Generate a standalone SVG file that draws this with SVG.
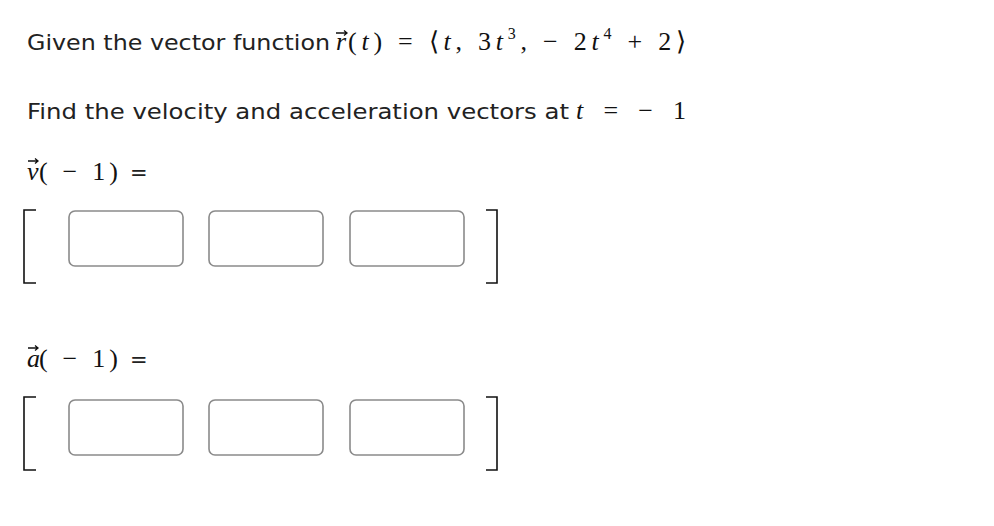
<svg xmlns="http://www.w3.org/2000/svg" width="994" height="526" viewBox="0 0 994 526">
<style>
.s{font-family:"DejaVu Sans","Liberation Sans",sans-serif;font-size:21px;fill:#222}
.m{font-family:"Liberation Serif",serif;font-size:26px;fill:#111}
.sup{font-size:16px}
.i{font-style:italic}
.b{fill:#fff;stroke:#8a8a8a;stroke-width:1.6}
.br{fill:none;stroke:#111;stroke-width:1.6}
.ar{fill:none;stroke:#111;stroke-width:1.3}
</style>
<rect width="994" height="526" fill="#fff"/>
<text x="27" y="50" class="s" textLength="303" lengthAdjust="spacingAndGlyphs">Given the vector function</text>
<text x="336" y="50" class="m i">r</text>
<path class="ar" d="M336 33H347M344 30.5L347 33L344 35.5"/>
<text x="348" y="50" class="m" textLength="338" lengthAdjust="spacing">(<tspan class="i">t</tspan>) = ⟨<tspan class="i">t</tspan>, 3<tspan class="i">t</tspan><tspan class="sup" dy="-11">3</tspan><tspan dy="11">,  − 2</tspan><tspan class="i">t</tspan><tspan class="sup" dy="-11">4</tspan><tspan dy="11"> + 2⟩</tspan></text>
<text x="27" y="119" class="s" textLength="542" lengthAdjust="spacingAndGlyphs">Find the velocity and acceleration vectors at</text>
<text x="576" y="119" class="m" textLength="110" lengthAdjust="spacing"><tspan class="i">t</tspan> =  − 1</text>
<text x="27" y="180" class="m i">v</text>
<path class="ar" d="M28 161H38M35 158.5L38 161L35 163.5"/>
<text x="39" y="180" class="m" textLength="79" lengthAdjust="spacing">( − 1)</text>
<text x="130" y="180" class="s">=</text>
<text x="27" y="367" class="m i">a</text>
<path class="ar" d="M28 348H38M35 345.5L38 348L35 350.5"/>
<text x="39" y="367" class="m" textLength="79" lengthAdjust="spacing">( − 1)</text>
<text x="130" y="367" class="s">=</text>
<path class="br" d="M36 210H24V283H36M486 210H497V283H486"/>
<rect class="b" x="69" y="211" width="114" height="55" rx="6"/>
<rect class="b" x="209" y="211" width="114" height="55" rx="6"/>
<rect class="b" x="350" y="211" width="114" height="55" rx="6"/>
<path class="br" d="M36 397H24V470H36M486 397H497V470H486"/>
<rect class="b" x="69" y="400" width="114" height="55" rx="6"/>
<rect class="b" x="209" y="400" width="114" height="55" rx="6"/>
<rect class="b" x="350" y="400" width="114" height="55" rx="6"/>
</svg>
